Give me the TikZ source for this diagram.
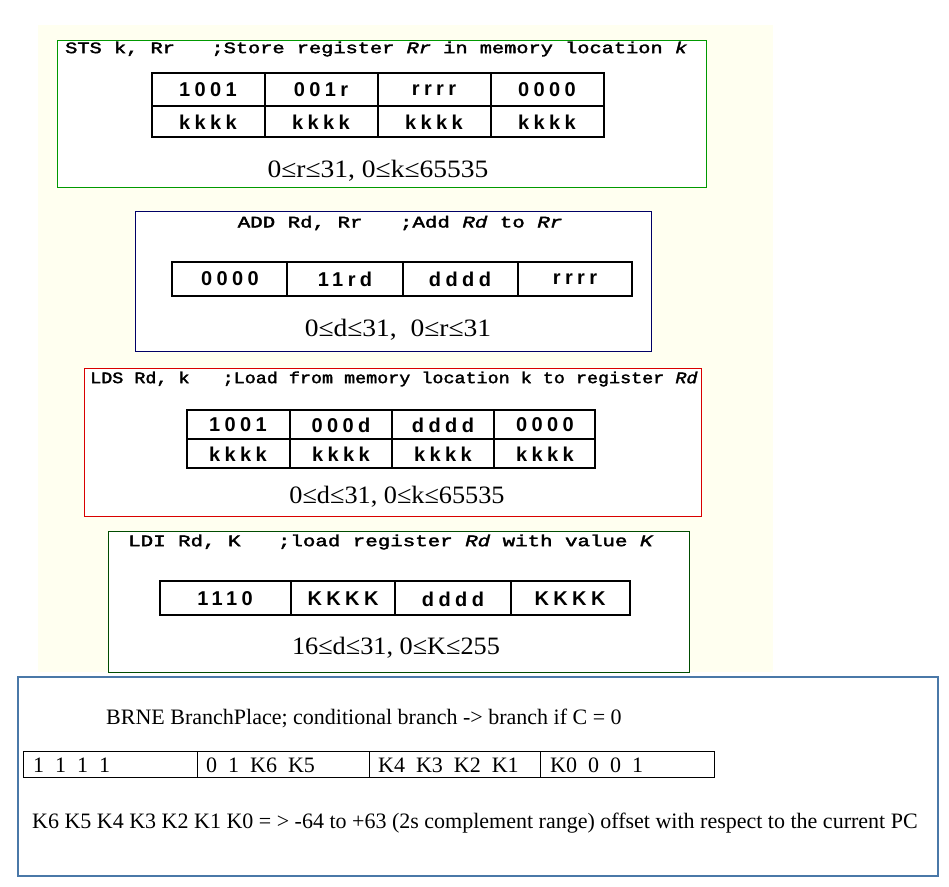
\documentclass[tikz,border=0pt]{standalone}
\usepackage{fontspec}
\setmainfont{Liberation Serif}
\newfontfamily\monob{Liberation Mono}[FakeBold=2]
\newfontfamily\cellf{Liberation Sans}[LetterSpace=22]
\definecolor{steel}{RGB}{74,120,168}
\definecolor{cream}{RGB}{255,255,240}
\begin{document}
\begin{tikzpicture}[x=1pt,y=-1pt,
  ttl/.style={anchor=west,inner sep=0,font=\monob\fontsize{16}{16}\selectfont},
  rng/.style={inner sep=0,font=\fontsize{25}{25}\selectfont},
  cell/.style={inner sep=0,font=\cellf\bfseries\fontsize{20}{20}\selectfont},
  tab/.style={line width=1.8pt},
  bcell/.style={anchor=west,inner sep=0,font=\fontsize{22}{22}\selectfont}]
\useasboundingbox (0,0) rectangle (949,886);
\fill[white] (0,0) rectangle (949,886);
\fill[cream] (38,25) rectangle (773,672);
% box 1
\draw[green!60!black,line width=0.8pt,fill=white] (57,40) rectangle (706,187);
\node[ttl] (t1) at (65,49) {\scalebox{1.27}[1]{STS k, Rr \ \ ;Store register \textit{Rr} in memory location \textit{k}}};
\draw[tab] (152,73) rectangle (604,137) (152,106) -- (604,106);
\foreach \x in {265,378,491} \draw[tab] (\x,73) -- (\x,137);
\foreach \t/\x in {1001/208,001r/321,rrrr/434,0000/547} \node[cell] (a\t) at (\x,90) {\t};
\foreach \x [count=\i] in {208,321,434,547} \node[cell] (ak\i) at (\x,122) {kkkk};
\node[rng] (r1) at (378,171) {\scalebox{1.1}[1]{0≤r≤31, 0≤k≤65535}};
% box 2
\draw[blue!40!black,line width=0.8pt,fill=white] (135,211) rectangle (651,351);
\node[ttl,anchor=center] (t2) at (400,223) {\scalebox{1.3}[1]{ADD Rd, Rr \ \ ;Add \textit{Rd} to \textit{Rr}}};
\draw[tab] (172,262) rectangle (632,296);
\foreach \x in {287,403,518} \draw[tab] (\x,262) -- (\x,296);
\foreach \t/\x in {0000/230,11rd/345,dddd/460,rrrr/575} \node[cell] (b\t) at (\x,279) {\t};
\node[rng] (r2) at (398,330) {\scalebox{1.1}[1]{0≤d≤31, \ 0≤r≤31}};
% box 3
\draw[red!85!black,line width=0.8pt,fill=white] (84,368) rectangle (701,516);
\node[ttl] (t3) at (90,379) {\scalebox{1.15}[1]{LDS Rd, k \ \ ;Load from memory location k to register \textit{Rd}}};
\draw[tab] (187,410) rectangle (595,468) (187,439) -- (595,439);
\foreach \x in {290,392,494} \draw[tab] (\x,410) -- (\x,468);
\foreach \t/\x in {1001/238,000d/341,dddd/443,0000/545} \node[cell] (c\t) at (\x,425) {\t};
\foreach \x [count=\i] in {238,341,443,545} \node[cell] (ck\i) at (\x,454) {kkkk};
\node[rng] (r3) at (397,497) {\scalebox{1.05}[1]{0≤d≤31, 0≤k≤65535}};
% box 4
\draw[green!30!black,line width=0.8pt,fill=white] (108,531) rectangle (689,672);
\node[ttl] (t4) at (128,542) {\scalebox{1.3}[1]{LDI Rd, K \ \ ;load register \textit{Rd} with value \textit{K}}};
\draw[tab] (160,581) rectangle (630,615);
\foreach \x in {291,395,511} \draw[tab] (\x,581) -- (\x,615);
\foreach \t/\x in {1110/225,KKKK/343,dddd/453,KKKK/570} \node[cell] at (\x,599) {\t};
\node[rng] (r4) at (396,648) {\scalebox{1.05}[1]{16≤d≤31, 0≤K≤255}};
% bottom box
\draw[steel,line width=1.2pt,fill=white] (18,677) rectangle (938,876);
\node[bcell] (bt) at (106,718) {BRNE BranchPlace; conditional branch -> branch if C = 0};
\draw[line width=1pt] (23,751) rectangle (714,777);
\foreach \x in {197,369,540} \draw[line width=1pt] (\x,751) -- (\x,777);
\node[bcell] (e1) at (33,765) {1 \ 1 \ 1 \ 1};
\node[bcell] (e2) at (206,765) {0 \ 1 \ K6 \ K5};
\node[bcell] (e3) at (378,765) {K4 \ K3 \ K2 \ K1};
\node[bcell] (e4) at (550,765) {K0 \ 0 \ 0 \ 1};
\node[bcell] (bb) at (32,823) {K6 K5 K4 K3 K2 K1 K0 = > -64 to +63 (2s complement range) offset with respect to the current PC};
\end{tikzpicture}
\end{document}
